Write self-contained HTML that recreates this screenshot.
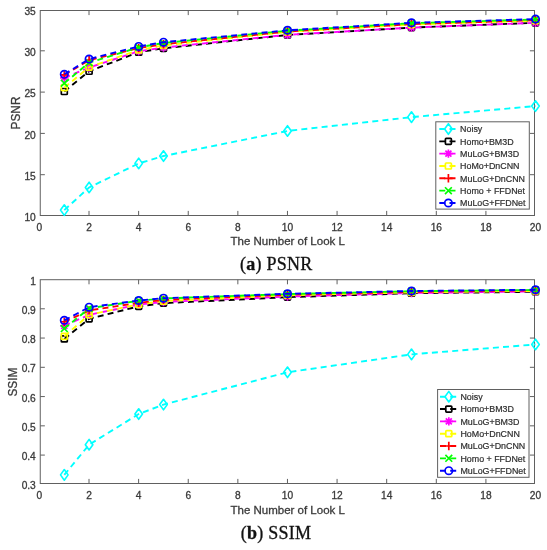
<!DOCTYPE html>
<html><head><meta charset="utf-8"><title>PSNR and SSIM versus number of looks</title>
<style>
html,body{margin:0;padding:0;background:#fff;}
body{width:547px;height:550px;overflow:hidden;}
svg{display:block;}
.tk{font-family:"Liberation Sans",sans-serif;font-size:10.2px;fill:#3a3a3a;stroke:#3a3a3a;stroke-width:0.3px;}
.lb{font-family:"Liberation Sans",sans-serif;font-size:11.5px;fill:#3a3a3a;stroke:#3a3a3a;stroke-width:0.3px;}
.yl{font-family:"Liberation Sans",sans-serif;font-size:11.85px;fill:#3a3a3a;stroke:#3a3a3a;stroke-width:0.3px;}
.lg{font-family:"Liberation Sans",sans-serif;font-size:8.9px;fill:#2e2e2e;stroke:#2e2e2e;stroke-width:0.2px;}
.cap{font-family:"Liberation Serif",serif;font-size:18px;letter-spacing:0.25px;fill:#111;stroke:#111;stroke-width:0.3px;}
</style></head><body>
<svg width="547" height="550" viewBox="0 0 547 550">
<rect width="547" height="550" fill="#fff"/>
<rect x="40.25" y="10.5" width="494.25" height="205.00" fill="#fff" stroke="#606060" stroke-width="1"/>
<text x="39.40" y="230.60" text-anchor="middle" class="tk">0</text>
<path d="M89.01 215.5v-4.6M89.01 10.5v4.6" stroke="#606060" stroke-width="1" fill="none"/>
<text x="89.01" y="230.60" text-anchor="middle" class="tk">2</text>
<path d="M138.62 215.5v-4.6M138.62 10.5v4.6" stroke="#606060" stroke-width="1" fill="none"/>
<text x="138.62" y="230.60" text-anchor="middle" class="tk">4</text>
<path d="M188.24 215.5v-4.6M188.24 10.5v4.6" stroke="#606060" stroke-width="1" fill="none"/>
<text x="188.24" y="230.60" text-anchor="middle" class="tk">6</text>
<path d="M237.85 215.5v-4.6M237.85 10.5v4.6" stroke="#606060" stroke-width="1" fill="none"/>
<text x="237.85" y="230.60" text-anchor="middle" class="tk">8</text>
<path d="M287.46 215.5v-4.6M287.46 10.5v4.6" stroke="#606060" stroke-width="1" fill="none"/>
<text x="287.46" y="230.60" text-anchor="middle" class="tk">10</text>
<path d="M337.07 215.5v-4.6M337.07 10.5v4.6" stroke="#606060" stroke-width="1" fill="none"/>
<text x="337.07" y="230.60" text-anchor="middle" class="tk">12</text>
<path d="M386.68 215.5v-4.6M386.68 10.5v4.6" stroke="#606060" stroke-width="1" fill="none"/>
<text x="386.68" y="230.60" text-anchor="middle" class="tk">14</text>
<path d="M436.30 215.5v-4.6M436.30 10.5v4.6" stroke="#606060" stroke-width="1" fill="none"/>
<text x="436.30" y="230.60" text-anchor="middle" class="tk">16</text>
<path d="M485.91 215.5v-4.6M485.91 10.5v4.6" stroke="#606060" stroke-width="1" fill="none"/>
<text x="485.91" y="230.60" text-anchor="middle" class="tk">18</text>
<text x="535.52" y="230.60" text-anchor="middle" class="tk">20</text>
<text x="35.8" y="221.10" text-anchor="end" class="tk">10</text>
<path d="M40.25 174.70h4.6M534.5 174.70h-4.6" stroke="#606060" stroke-width="1" fill="none"/>
<text x="35.8" y="179.80" text-anchor="end" class="tk">15</text>
<path d="M40.25 133.40h4.6M534.5 133.40h-4.6" stroke="#606060" stroke-width="1" fill="none"/>
<text x="35.8" y="138.50" text-anchor="end" class="tk">20</text>
<path d="M40.25 92.10h4.6M534.5 92.10h-4.6" stroke="#606060" stroke-width="1" fill="none"/>
<text x="35.8" y="97.20" text-anchor="end" class="tk">25</text>
<path d="M40.25 50.80h4.6M534.5 50.80h-4.6" stroke="#606060" stroke-width="1" fill="none"/>
<text x="35.8" y="55.90" text-anchor="end" class="tk">30</text>
<text x="35.8" y="14.60" text-anchor="end" class="tk">35</text>
<text x="287.68" y="245.30" text-anchor="middle" class="lb">The Number of Look L</text>
<text transform="translate(19.9,113.00) rotate(-90)" text-anchor="middle" class="yl">PSNR</text>
<path d="M64.30 210.09L89.10 187.48L138.70 163.40L163.50 156.03L287.50 130.97L411.50 117.13L535.50 106.07" fill="none" stroke="#00ffff" stroke-width="1.9" stroke-dasharray="6.0 4.2"/>
<path d="M60.50 210.09L64.30 204.79L68.10 210.09L64.30 215.39Z" fill="none" stroke="#00ffff" stroke-width="1.6" stroke-linejoin="round"/>
<path d="M85.30 187.48L89.10 182.18L92.90 187.48L89.10 192.78Z" fill="none" stroke="#00ffff" stroke-width="1.6" stroke-linejoin="round"/>
<path d="M134.90 163.40L138.70 158.10L142.50 163.40L138.70 168.70Z" fill="none" stroke="#00ffff" stroke-width="1.6" stroke-linejoin="round"/>
<path d="M159.70 156.03L163.50 150.73L167.30 156.03L163.50 161.33Z" fill="none" stroke="#00ffff" stroke-width="1.6" stroke-linejoin="round"/>
<path d="M283.70 130.97L287.50 125.67L291.30 130.97L287.50 136.27Z" fill="none" stroke="#00ffff" stroke-width="1.6" stroke-linejoin="round"/>
<path d="M407.70 117.13L411.50 111.83L415.30 117.13L411.50 122.43Z" fill="none" stroke="#00ffff" stroke-width="1.6" stroke-linejoin="round"/>
<path d="M531.70 106.07L535.50 100.77L539.30 106.07L535.50 111.37Z" fill="none" stroke="#00ffff" stroke-width="1.6" stroke-linejoin="round"/>
<path d="M64.30 91.49L89.10 71.27L138.70 52.18L163.50 48.33L287.50 34.98L411.50 27.61L535.50 22.78" fill="none" stroke="#000000" stroke-width="1.9" stroke-dasharray="6.0 4.2"/>
<rect x="61.30" y="88.49" width="6.0" height="6.0" rx="0.8" fill="none" stroke="#000000" stroke-width="1.7"/>
<rect x="86.10" y="68.27" width="6.0" height="6.0" rx="0.8" fill="none" stroke="#000000" stroke-width="1.7"/>
<rect x="135.70" y="49.18" width="6.0" height="6.0" rx="0.8" fill="none" stroke="#000000" stroke-width="1.7"/>
<rect x="160.50" y="45.33" width="6.0" height="6.0" rx="0.8" fill="none" stroke="#000000" stroke-width="1.7"/>
<rect x="284.50" y="31.98" width="6.0" height="6.0" rx="0.8" fill="none" stroke="#000000" stroke-width="1.7"/>
<rect x="408.50" y="24.61" width="6.0" height="6.0" rx="0.8" fill="none" stroke="#000000" stroke-width="1.7"/>
<rect x="532.50" y="19.78" width="6.0" height="6.0" rx="0.8" fill="none" stroke="#000000" stroke-width="1.7"/>
<path d="M64.30 77.82L89.10 67.58L138.70 51.20L163.50 47.51L287.50 34.82L411.50 27.61L535.50 22.78" fill="none" stroke="#ff00ff" stroke-width="1.9" stroke-dasharray="6.0 4.2"/>
<path d="M60.10 77.82h8.4M64.30 73.62v8.4M61.30 74.82l6.0 6.0M61.30 80.82l6.0 -6.0" fill="none" stroke="#ff00ff" stroke-width="1.7"/>
<path d="M84.90 67.58h8.4M89.10 63.38v8.4M86.10 64.58l6.0 6.0M86.10 70.58l6.0 -6.0" fill="none" stroke="#ff00ff" stroke-width="1.7"/>
<path d="M134.50 51.20h8.4M138.70 47.00v8.4M135.70 48.20l6.0 6.0M135.70 54.20l6.0 -6.0" fill="none" stroke="#ff00ff" stroke-width="1.7"/>
<path d="M159.30 47.51h8.4M163.50 43.31v8.4M160.50 44.51l6.0 6.0M160.50 50.51l6.0 -6.0" fill="none" stroke="#ff00ff" stroke-width="1.7"/>
<path d="M283.30 34.82h8.4M287.50 30.62v8.4M284.50 31.82l6.0 6.0M284.50 37.82l6.0 -6.0" fill="none" stroke="#ff00ff" stroke-width="1.7"/>
<path d="M407.30 27.61h8.4M411.50 23.41v8.4M408.50 24.61l6.0 6.0M408.50 30.61l6.0 -6.0" fill="none" stroke="#ff00ff" stroke-width="1.7"/>
<path d="M531.30 22.78h8.4M535.50 18.58v8.4M532.50 19.78l6.0 6.0M532.50 25.78l6.0 -6.0" fill="none" stroke="#ff00ff" stroke-width="1.7"/>
<path d="M64.30 87.65L89.10 67.17L138.70 49.97L163.50 45.47L287.50 31.95L411.50 24.58L535.50 20.73" fill="none" stroke="#ffff00" stroke-width="1.9" stroke-dasharray="6.0 4.2"/>
<rect x="61.30" y="84.65" width="6.0" height="6.0" rx="0.8" fill="none" stroke="#ffff00" stroke-width="1.7"/>
<rect x="86.10" y="64.17" width="6.0" height="6.0" rx="0.8" fill="none" stroke="#ffff00" stroke-width="1.7"/>
<rect x="135.70" y="46.97" width="6.0" height="6.0" rx="0.8" fill="none" stroke="#ffff00" stroke-width="1.7"/>
<rect x="160.50" y="42.47" width="6.0" height="6.0" rx="0.8" fill="none" stroke="#ffff00" stroke-width="1.7"/>
<rect x="284.50" y="28.95" width="6.0" height="6.0" rx="0.8" fill="none" stroke="#ffff00" stroke-width="1.7"/>
<rect x="408.50" y="21.58" width="6.0" height="6.0" rx="0.8" fill="none" stroke="#ffff00" stroke-width="1.7"/>
<rect x="532.50" y="17.73" width="6.0" height="6.0" rx="0.8" fill="none" stroke="#ffff00" stroke-width="1.7"/>
<path d="M64.30 74.95L89.10 60.21L138.70 48.09L163.50 44.24L287.50 31.54L411.50 24.17L535.50 20.24" fill="none" stroke="#ff0000" stroke-width="1.9" stroke-dasharray="6.0 4.2"/>
<path d="M60.10 74.95h8.4M64.30 70.75v8.4" fill="none" stroke="#ff0000" stroke-width="1.7"/>
<path d="M84.90 60.21h8.4M89.10 56.01v8.4" fill="none" stroke="#ff0000" stroke-width="1.7"/>
<path d="M134.50 48.09h8.4M138.70 43.89v8.4" fill="none" stroke="#ff0000" stroke-width="1.7"/>
<path d="M159.30 44.24h8.4M163.50 40.04v8.4" fill="none" stroke="#ff0000" stroke-width="1.7"/>
<path d="M283.30 31.54h8.4M287.50 27.34v8.4" fill="none" stroke="#ff0000" stroke-width="1.7"/>
<path d="M407.30 24.17h8.4M411.50 19.97v8.4" fill="none" stroke="#ff0000" stroke-width="1.7"/>
<path d="M531.30 20.24h8.4M535.50 16.04v8.4" fill="none" stroke="#ff0000" stroke-width="1.7"/>
<path d="M64.30 83.14L89.10 62.67L138.70 47.27L163.50 43.01L287.50 30.73L411.50 23.19L535.50 19.50" fill="none" stroke="#00ff00" stroke-width="1.9" stroke-dasharray="6.0 4.2"/>
<path d="M60.90 79.74l6.8 6.8M60.90 86.54l6.8 -6.8" fill="none" stroke="#00ff00" stroke-width="1.7"/>
<path d="M85.70 59.27l6.8 6.8M85.70 66.07l6.8 -6.8" fill="none" stroke="#00ff00" stroke-width="1.7"/>
<path d="M135.30 43.87l6.8 6.8M135.30 50.67l6.8 -6.8" fill="none" stroke="#00ff00" stroke-width="1.7"/>
<path d="M160.10 39.61l6.8 6.8M160.10 46.41l6.8 -6.8" fill="none" stroke="#00ff00" stroke-width="1.7"/>
<path d="M284.10 27.33l6.8 6.8M284.10 34.13l6.8 -6.8" fill="none" stroke="#00ff00" stroke-width="1.7"/>
<path d="M408.10 19.79l6.8 6.8M408.10 26.59l6.8 -6.8" fill="none" stroke="#00ff00" stroke-width="1.7"/>
<path d="M532.10 16.10l6.8 6.8M532.10 22.90l6.8 -6.8" fill="none" stroke="#00ff00" stroke-width="1.7"/>
<path d="M64.30 74.30L89.10 59.06L138.70 46.45L163.50 42.19L287.50 30.32L411.50 22.78L535.50 19.10" fill="none" stroke="#0000ff" stroke-width="1.9" stroke-dasharray="6.0 4.2"/>
<circle cx="64.30" cy="74.30" r="3.7" fill="none" stroke="#0000ff" stroke-width="1.7"/>
<circle cx="89.10" cy="59.06" r="3.7" fill="none" stroke="#0000ff" stroke-width="1.7"/>
<circle cx="138.70" cy="46.45" r="3.7" fill="none" stroke="#0000ff" stroke-width="1.7"/>
<circle cx="163.50" cy="42.19" r="3.7" fill="none" stroke="#0000ff" stroke-width="1.7"/>
<circle cx="287.50" cy="30.32" r="3.7" fill="none" stroke="#0000ff" stroke-width="1.7"/>
<circle cx="411.50" cy="22.78" r="3.7" fill="none" stroke="#0000ff" stroke-width="1.7"/>
<circle cx="535.50" cy="19.10" r="3.7" fill="none" stroke="#0000ff" stroke-width="1.7"/>
<rect x="435.8" y="121.8" width="93.50" height="87.30" fill="#fff" stroke="#606060" stroke-width="1"/>
<path d="M439.3 129.00H455.7" fill="none" stroke="#00ffff" stroke-width="1.9" stroke-dasharray="6.0 4.2"/>
<path d="M444.60 129.00L448.40 123.70L452.20 129.00L448.40 134.30Z" fill="none" stroke="#00ffff" stroke-width="1.6" stroke-linejoin="round"/>
<text x="460.1" y="132.20" class="lg">Noisy</text>
<path d="M439.3 141.33H455.7" fill="none" stroke="#000000" stroke-width="1.9" stroke-dasharray="6.0 4.2"/>
<rect x="445.40" y="138.33" width="6.0" height="6.0" rx="0.8" fill="none" stroke="#000000" stroke-width="1.7"/>
<text x="460.1" y="144.53" class="lg">Homo+BM3D</text>
<path d="M439.3 153.66H455.7" fill="none" stroke="#ff00ff" stroke-width="1.9" stroke-dasharray="6.0 4.2"/>
<path d="M444.20 153.66h8.4M448.40 149.46v8.4M445.40 150.66l6.0 6.0M445.40 156.66l6.0 -6.0" fill="none" stroke="#ff00ff" stroke-width="1.7"/>
<text x="460.1" y="156.86" class="lg">MuLoG+BM3D</text>
<path d="M439.3 165.99H455.7" fill="none" stroke="#ffff00" stroke-width="1.9" stroke-dasharray="6.0 4.2"/>
<rect x="445.40" y="162.99" width="6.0" height="6.0" rx="0.8" fill="none" stroke="#ffff00" stroke-width="1.7"/>
<text x="460.1" y="169.19" class="lg">HoMo+DnCNN</text>
<path d="M439.3 178.32H455.7" fill="none" stroke="#ff0000" stroke-width="1.9" stroke-dasharray="6.0 4.2"/>
<path d="M444.20 178.32h8.4M448.40 174.12v8.4" fill="none" stroke="#ff0000" stroke-width="1.7"/>
<text x="460.1" y="181.52" class="lg">MuLoG+DnCNN</text>
<path d="M439.3 190.65H455.7" fill="none" stroke="#00ff00" stroke-width="1.9" stroke-dasharray="6.0 4.2"/>
<path d="M445.00 187.25l6.8 6.8M445.00 194.05l6.8 -6.8" fill="none" stroke="#00ff00" stroke-width="1.7"/>
<text x="460.1" y="193.85" class="lg">Homo + FFDNet</text>
<path d="M439.3 202.98H455.7" fill="none" stroke="#0000ff" stroke-width="1.9" stroke-dasharray="6.0 4.2"/>
<circle cx="448.40" cy="202.98" r="3.7" fill="none" stroke="#0000ff" stroke-width="1.7"/>
<text x="460.1" y="206.18" class="lg">MuLoG+FFDNet</text>
<text x="276.3" y="270.2" text-anchor="middle" class="cap">(<tspan font-weight="bold">a</tspan>) PSNR</text>
<rect x="40.25" y="279.7" width="494.25" height="203.80" fill="#fff" stroke="#606060" stroke-width="1"/>
<text x="39.40" y="499.00" text-anchor="middle" class="tk">0</text>
<path d="M89.01 483.5v-4.6M89.01 279.7v4.6" stroke="#606060" stroke-width="1" fill="none"/>
<text x="89.01" y="499.00" text-anchor="middle" class="tk">2</text>
<path d="M138.62 483.5v-4.6M138.62 279.7v4.6" stroke="#606060" stroke-width="1" fill="none"/>
<text x="138.62" y="499.00" text-anchor="middle" class="tk">4</text>
<path d="M188.24 483.5v-4.6M188.24 279.7v4.6" stroke="#606060" stroke-width="1" fill="none"/>
<text x="188.24" y="499.00" text-anchor="middle" class="tk">6</text>
<path d="M237.85 483.5v-4.6M237.85 279.7v4.6" stroke="#606060" stroke-width="1" fill="none"/>
<text x="237.85" y="499.00" text-anchor="middle" class="tk">8</text>
<path d="M287.46 483.5v-4.6M287.46 279.7v4.6" stroke="#606060" stroke-width="1" fill="none"/>
<text x="287.46" y="499.00" text-anchor="middle" class="tk">10</text>
<path d="M337.07 483.5v-4.6M337.07 279.7v4.6" stroke="#606060" stroke-width="1" fill="none"/>
<text x="337.07" y="499.00" text-anchor="middle" class="tk">12</text>
<path d="M386.68 483.5v-4.6M386.68 279.7v4.6" stroke="#606060" stroke-width="1" fill="none"/>
<text x="386.68" y="499.00" text-anchor="middle" class="tk">14</text>
<path d="M436.30 483.5v-4.6M436.30 279.7v4.6" stroke="#606060" stroke-width="1" fill="none"/>
<text x="436.30" y="499.00" text-anchor="middle" class="tk">16</text>
<path d="M485.91 483.5v-4.6M485.91 279.7v4.6" stroke="#606060" stroke-width="1" fill="none"/>
<text x="485.91" y="499.00" text-anchor="middle" class="tk">18</text>
<text x="535.52" y="499.00" text-anchor="middle" class="tk">20</text>
<text x="35.8" y="489.45" text-anchor="end" class="tk">0.3</text>
<path d="M40.25 455.09h4.6M534.5 455.09h-4.6" stroke="#606060" stroke-width="1" fill="none"/>
<text x="35.8" y="460.19" text-anchor="end" class="tk">0.4</text>
<path d="M40.25 425.83h4.6M534.5 425.83h-4.6" stroke="#606060" stroke-width="1" fill="none"/>
<text x="35.8" y="430.93" text-anchor="end" class="tk">0.5</text>
<path d="M40.25 396.57h4.6M534.5 396.57h-4.6" stroke="#606060" stroke-width="1" fill="none"/>
<text x="35.8" y="401.67" text-anchor="end" class="tk">0.6</text>
<path d="M40.25 367.31h4.6M534.5 367.31h-4.6" stroke="#606060" stroke-width="1" fill="none"/>
<text x="35.8" y="372.41" text-anchor="end" class="tk">0.7</text>
<path d="M40.25 338.05h4.6M534.5 338.05h-4.6" stroke="#606060" stroke-width="1" fill="none"/>
<text x="35.8" y="343.15" text-anchor="end" class="tk">0.8</text>
<path d="M40.25 308.79h4.6M534.5 308.79h-4.6" stroke="#606060" stroke-width="1" fill="none"/>
<text x="35.8" y="313.89" text-anchor="end" class="tk">0.9</text>
<text x="35.8" y="284.63" text-anchor="end" class="tk">1</text>
<text x="287.68" y="514.20" text-anchor="middle" class="lb">The Number of Look L</text>
<text transform="translate(16.9,382.10) rotate(-90)" text-anchor="middle" class="yl">SSIM</text>
<path d="M64.30 474.88L89.10 444.69L138.70 414.04L163.50 404.58L287.50 372.29L411.50 354.36L535.50 344.46" fill="none" stroke="#00ffff" stroke-width="1.9" stroke-dasharray="6.0 4.2"/>
<path d="M60.50 474.88L64.30 469.58L68.10 474.88L64.30 480.18Z" fill="none" stroke="#00ffff" stroke-width="1.6" stroke-linejoin="round"/>
<path d="M85.30 444.69L89.10 439.39L92.90 444.69L89.10 449.99Z" fill="none" stroke="#00ffff" stroke-width="1.6" stroke-linejoin="round"/>
<path d="M134.90 414.04L138.70 408.74L142.50 414.04L138.70 419.34Z" fill="none" stroke="#00ffff" stroke-width="1.6" stroke-linejoin="round"/>
<path d="M159.70 404.58L163.50 399.28L167.30 404.58L163.50 409.88Z" fill="none" stroke="#00ffff" stroke-width="1.6" stroke-linejoin="round"/>
<path d="M283.70 372.29L287.50 366.99L291.30 372.29L287.50 377.59Z" fill="none" stroke="#00ffff" stroke-width="1.6" stroke-linejoin="round"/>
<path d="M407.70 354.36L411.50 349.06L415.30 354.36L411.50 359.66Z" fill="none" stroke="#00ffff" stroke-width="1.6" stroke-linejoin="round"/>
<path d="M531.70 344.46L535.50 339.16L539.30 344.46L535.50 349.76Z" fill="none" stroke="#00ffff" stroke-width="1.6" stroke-linejoin="round"/>
<path d="M64.30 338.93L89.10 318.85L138.70 306.33L163.50 303.13L287.50 297.16L411.50 293.23L535.50 291.77" fill="none" stroke="#000000" stroke-width="1.9" stroke-dasharray="6.0 4.2"/>
<rect x="61.30" y="335.93" width="6.0" height="6.0" rx="0.8" fill="none" stroke="#000000" stroke-width="1.7"/>
<rect x="86.10" y="315.85" width="6.0" height="6.0" rx="0.8" fill="none" stroke="#000000" stroke-width="1.7"/>
<rect x="135.70" y="303.33" width="6.0" height="6.0" rx="0.8" fill="none" stroke="#000000" stroke-width="1.7"/>
<rect x="160.50" y="300.13" width="6.0" height="6.0" rx="0.8" fill="none" stroke="#000000" stroke-width="1.7"/>
<rect x="284.50" y="294.16" width="6.0" height="6.0" rx="0.8" fill="none" stroke="#000000" stroke-width="1.7"/>
<rect x="408.50" y="290.23" width="6.0" height="6.0" rx="0.8" fill="none" stroke="#000000" stroke-width="1.7"/>
<rect x="532.50" y="288.77" width="6.0" height="6.0" rx="0.8" fill="none" stroke="#000000" stroke-width="1.7"/>
<path d="M64.30 325.83L89.10 314.77L138.70 304.58L163.50 301.96L287.50 296.58L411.50 292.94L535.50 291.48" fill="none" stroke="#ff00ff" stroke-width="1.9" stroke-dasharray="6.0 4.2"/>
<path d="M60.10 325.83h8.4M64.30 321.63v8.4M61.30 322.83l6.0 6.0M61.30 328.83l6.0 -6.0" fill="none" stroke="#ff00ff" stroke-width="1.7"/>
<path d="M84.90 314.77h8.4M89.10 310.57v8.4M86.10 311.77l6.0 6.0M86.10 317.77l6.0 -6.0" fill="none" stroke="#ff00ff" stroke-width="1.7"/>
<path d="M134.50 304.58h8.4M138.70 300.38v8.4M135.70 301.58l6.0 6.0M135.70 307.58l6.0 -6.0" fill="none" stroke="#ff00ff" stroke-width="1.7"/>
<path d="M159.30 301.96h8.4M163.50 297.76v8.4M160.50 298.96l6.0 6.0M160.50 304.96l6.0 -6.0" fill="none" stroke="#ff00ff" stroke-width="1.7"/>
<path d="M283.30 296.58h8.4M287.50 292.38v8.4M284.50 293.58l6.0 6.0M284.50 299.58l6.0 -6.0" fill="none" stroke="#ff00ff" stroke-width="1.7"/>
<path d="M407.30 292.94h8.4M411.50 288.74v8.4M408.50 289.94l6.0 6.0M408.50 295.94l6.0 -6.0" fill="none" stroke="#ff00ff" stroke-width="1.7"/>
<path d="M531.30 291.48h8.4M535.50 287.28v8.4M532.50 288.48l6.0 6.0M532.50 294.48l6.0 -6.0" fill="none" stroke="#ff00ff" stroke-width="1.7"/>
<path d="M64.30 336.31L89.10 314.77L138.70 304.29L163.50 301.09L287.50 295.27L411.50 292.36L535.50 290.90" fill="none" stroke="#ffff00" stroke-width="1.9" stroke-dasharray="6.0 4.2"/>
<rect x="61.30" y="333.31" width="6.0" height="6.0" rx="0.8" fill="none" stroke="#ffff00" stroke-width="1.7"/>
<rect x="86.10" y="311.77" width="6.0" height="6.0" rx="0.8" fill="none" stroke="#ffff00" stroke-width="1.7"/>
<rect x="135.70" y="301.29" width="6.0" height="6.0" rx="0.8" fill="none" stroke="#ffff00" stroke-width="1.7"/>
<rect x="160.50" y="298.09" width="6.0" height="6.0" rx="0.8" fill="none" stroke="#ffff00" stroke-width="1.7"/>
<rect x="284.50" y="292.27" width="6.0" height="6.0" rx="0.8" fill="none" stroke="#ffff00" stroke-width="1.7"/>
<rect x="408.50" y="289.36" width="6.0" height="6.0" rx="0.8" fill="none" stroke="#ffff00" stroke-width="1.7"/>
<rect x="532.50" y="287.90" width="6.0" height="6.0" rx="0.8" fill="none" stroke="#ffff00" stroke-width="1.7"/>
<path d="M64.30 321.76L89.10 310.40L138.70 302.84L163.50 299.92L287.50 294.69L411.50 291.77L535.50 290.32" fill="none" stroke="#ff0000" stroke-width="1.9" stroke-dasharray="6.0 4.2"/>
<path d="M60.10 321.76h8.4M64.30 317.56v8.4" fill="none" stroke="#ff0000" stroke-width="1.7"/>
<path d="M84.90 310.40h8.4M89.10 306.20v8.4" fill="none" stroke="#ff0000" stroke-width="1.7"/>
<path d="M134.50 302.84h8.4M138.70 298.64v8.4" fill="none" stroke="#ff0000" stroke-width="1.7"/>
<path d="M159.30 299.92h8.4M163.50 295.72v8.4" fill="none" stroke="#ff0000" stroke-width="1.7"/>
<path d="M283.30 294.69h8.4M287.50 290.49v8.4" fill="none" stroke="#ff0000" stroke-width="1.7"/>
<path d="M407.30 291.77h8.4M411.50 287.57v8.4" fill="none" stroke="#ff0000" stroke-width="1.7"/>
<path d="M531.30 290.32h8.4M535.50 286.12v8.4" fill="none" stroke="#ff0000" stroke-width="1.7"/>
<path d="M64.30 328.60L89.10 308.37L138.70 300.80L163.50 298.47L287.50 294.10L411.50 291.19L535.50 290.03" fill="none" stroke="#00ff00" stroke-width="1.9" stroke-dasharray="6.0 4.2"/>
<path d="M60.90 325.20l6.8 6.8M60.90 332.00l6.8 -6.8" fill="none" stroke="#00ff00" stroke-width="1.7"/>
<path d="M85.70 304.97l6.8 6.8M85.70 311.77l6.8 -6.8" fill="none" stroke="#00ff00" stroke-width="1.7"/>
<path d="M135.30 297.40l6.8 6.8M135.30 304.20l6.8 -6.8" fill="none" stroke="#00ff00" stroke-width="1.7"/>
<path d="M160.10 295.07l6.8 6.8M160.10 301.87l6.8 -6.8" fill="none" stroke="#00ff00" stroke-width="1.7"/>
<path d="M284.10 290.70l6.8 6.8M284.10 297.50l6.8 -6.8" fill="none" stroke="#00ff00" stroke-width="1.7"/>
<path d="M408.10 287.79l6.8 6.8M408.10 294.59l6.8 -6.8" fill="none" stroke="#00ff00" stroke-width="1.7"/>
<path d="M532.10 286.63l6.8 6.8M532.10 293.43l6.8 -6.8" fill="none" stroke="#00ff00" stroke-width="1.7"/>
<path d="M64.30 320.30L89.10 307.20L138.70 300.51L163.50 298.18L287.50 293.81L411.50 290.99L535.50 289.74" fill="none" stroke="#0000ff" stroke-width="1.9" stroke-dasharray="6.0 4.2"/>
<circle cx="64.30" cy="320.30" r="3.7" fill="none" stroke="#0000ff" stroke-width="1.7"/>
<circle cx="89.10" cy="307.20" r="3.7" fill="none" stroke="#0000ff" stroke-width="1.7"/>
<circle cx="138.70" cy="300.51" r="3.7" fill="none" stroke="#0000ff" stroke-width="1.7"/>
<circle cx="163.50" cy="298.18" r="3.7" fill="none" stroke="#0000ff" stroke-width="1.7"/>
<circle cx="287.50" cy="293.81" r="3.7" fill="none" stroke="#0000ff" stroke-width="1.7"/>
<circle cx="411.50" cy="290.99" r="3.7" fill="none" stroke="#0000ff" stroke-width="1.7"/>
<circle cx="535.50" cy="289.74" r="3.7" fill="none" stroke="#0000ff" stroke-width="1.7"/>
<rect x="437.6" y="389.5" width="91.40" height="87.80" fill="#fff" stroke="#606060" stroke-width="1"/>
<path d="M440.0 396.70H456.4" fill="none" stroke="#00ffff" stroke-width="1.9" stroke-dasharray="6.0 4.2"/>
<path d="M445.00 396.70L448.80 391.40L452.60 396.70L448.80 402.00Z" fill="none" stroke="#00ffff" stroke-width="1.6" stroke-linejoin="round"/>
<text x="460.4" y="399.90" class="lg">Noisy</text>
<path d="M440.0 409.03H456.4" fill="none" stroke="#000000" stroke-width="1.9" stroke-dasharray="6.0 4.2"/>
<rect x="445.80" y="406.03" width="6.0" height="6.0" rx="0.8" fill="none" stroke="#000000" stroke-width="1.7"/>
<text x="460.4" y="412.23" class="lg">Homo+BM3D</text>
<path d="M440.0 421.36H456.4" fill="none" stroke="#ff00ff" stroke-width="1.9" stroke-dasharray="6.0 4.2"/>
<path d="M444.60 421.36h8.4M448.80 417.16v8.4M445.80 418.36l6.0 6.0M445.80 424.36l6.0 -6.0" fill="none" stroke="#ff00ff" stroke-width="1.7"/>
<text x="460.4" y="424.56" class="lg">MuLoG+BM3D</text>
<path d="M440.0 433.69H456.4" fill="none" stroke="#ffff00" stroke-width="1.9" stroke-dasharray="6.0 4.2"/>
<rect x="445.80" y="430.69" width="6.0" height="6.0" rx="0.8" fill="none" stroke="#ffff00" stroke-width="1.7"/>
<text x="460.4" y="436.89" class="lg">HoMo+DnCNN</text>
<path d="M440.0 446.02H456.4" fill="none" stroke="#ff0000" stroke-width="1.9" stroke-dasharray="6.0 4.2"/>
<path d="M444.60 446.02h8.4M448.80 441.82v8.4" fill="none" stroke="#ff0000" stroke-width="1.7"/>
<text x="460.4" y="449.22" class="lg">MuLoG+DnCNN</text>
<path d="M440.0 458.35H456.4" fill="none" stroke="#00ff00" stroke-width="1.9" stroke-dasharray="6.0 4.2"/>
<path d="M445.40 454.95l6.8 6.8M445.40 461.75l6.8 -6.8" fill="none" stroke="#00ff00" stroke-width="1.7"/>
<text x="460.4" y="461.55" class="lg">Homo + FFDNet</text>
<path d="M440.0 470.68H456.4" fill="none" stroke="#0000ff" stroke-width="1.9" stroke-dasharray="6.0 4.2"/>
<circle cx="448.80" cy="470.68" r="3.7" fill="none" stroke="#0000ff" stroke-width="1.7"/>
<text x="460.4" y="473.88" class="lg">MuLoG+FFDNet</text>
<text x="276.1" y="539.0" text-anchor="middle" class="cap">(<tspan font-weight="bold">b</tspan>) SSIM</text>
</svg>
</body></html>
